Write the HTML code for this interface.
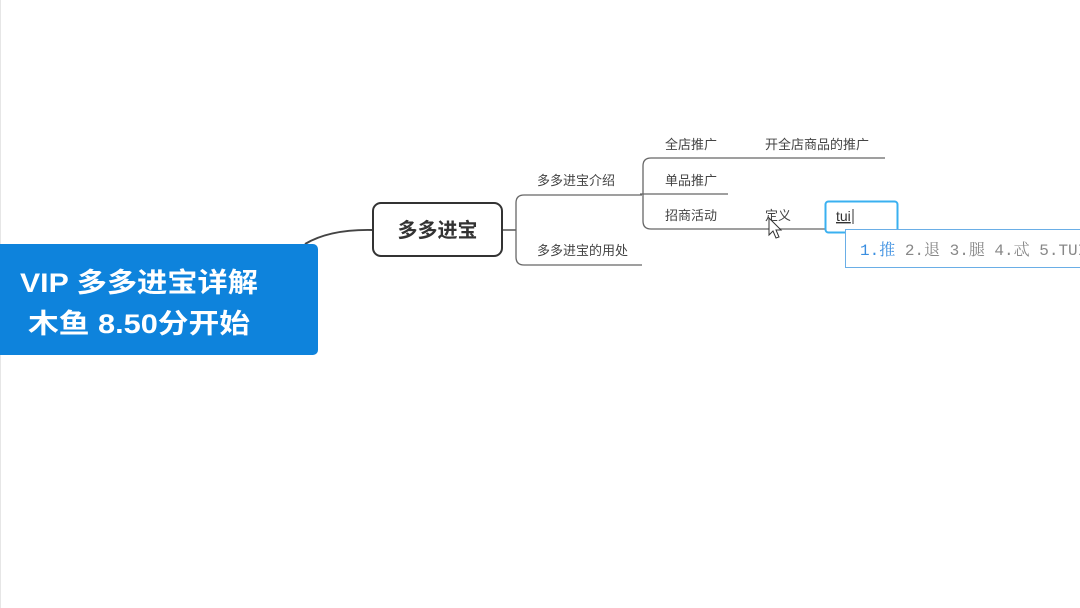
<!DOCTYPE html>
<html><head><meta charset="utf-8"><style>
html,body{margin:0;padding:0;background:#fff;}
svg{display:block}
.t{font-family:"Liberation Sans","Noto Sans CJK SC",sans-serif;}
</style></head><body>
<svg width="1080" height="608" viewBox="0 0 1080 608" xmlns="http://www.w3.org/2000/svg">
<rect width="1080" height="608" fill="#fff"/>
<line x1="0.5" y1="0" x2="0.5" y2="608" stroke="#e6e6e6"/>
<path d="M305 244 Q330 229 373 230" fill="none" stroke="#444" stroke-width="2"/>
<line x1="502" y1="230" x2="516" y2="230" stroke="#555" stroke-width="1.5"/>
<path d="M642 195 H524 Q516 195 516 203 V257 Q516 265 524 265 H642" fill="none" stroke="#666" stroke-width="1.3"/>
<path d="M885 158 H651 Q643 158 643 166 V221 Q643 229 651 229 H826" fill="none" stroke="#666" stroke-width="1.3"/>
<line x1="640" y1="194" x2="728" y2="194" stroke="#666" stroke-width="1.3"/>
<rect x="-6" y="244" width="324" height="111" rx="5" fill="#0e83dc"/>
<text class="t" x="20" y="292" font-size="27" font-weight="bold" fill="#fff" textLength="238" lengthAdjust="spacingAndGlyphs">VIP 多多进宝详解</text>
<text class="t" x="28" y="333" font-size="27" font-weight="bold" fill="#fff" textLength="222" lengthAdjust="spacingAndGlyphs">木鱼 8.50分开始</text>
<rect x="373" y="203" width="129" height="53" rx="8" fill="#fff" stroke="#333" stroke-width="2"/>
<text class="t" x="437.5" y="237" font-size="20" font-weight="bold" fill="#333" text-anchor="middle">多多进宝</text>
<g class="t" font-size="13" fill="#444">
<text x="537" y="185">多多进宝介绍</text>
<text x="537" y="255">多多进宝的用处</text>
<text x="665" y="149">全店推广</text>
<text x="765" y="149">开全店商品的推广</text>
<text x="665" y="185">单品推广</text>
<text x="665" y="220">招商活动</text>
<text x="765" y="220">定义</text>
</g>
<rect x="825.5" y="201.5" width="72" height="31" rx="3" fill="#fff" stroke="#3ab0f0" stroke-width="2"/>
<text class="t" x="836" y="221" font-size="14" fill="#333" text-decoration="underline">tui</text>
<line x1="853" y1="209" x2="853" y2="224" stroke="#333"/>
<path d="M769 218 L769 235 L773 231 L776 238 L779 237 L776 230 L781 230 Z" fill="#fff" stroke="#333" stroke-width="1"/>
<rect x="845.5" y="229.5" width="240" height="38" fill="#fff" stroke="#6aaee6" stroke-width="1"/>
<text x="860" y="255" font-size="16" font-family="'Liberation Mono','Noto Serif CJK SC',serif" fill="#888"><tspan fill="#3a8ee0">1.推</tspan> 2.退 3.腿 4.忒 5.TUI</text>
</svg>
</body></html>
